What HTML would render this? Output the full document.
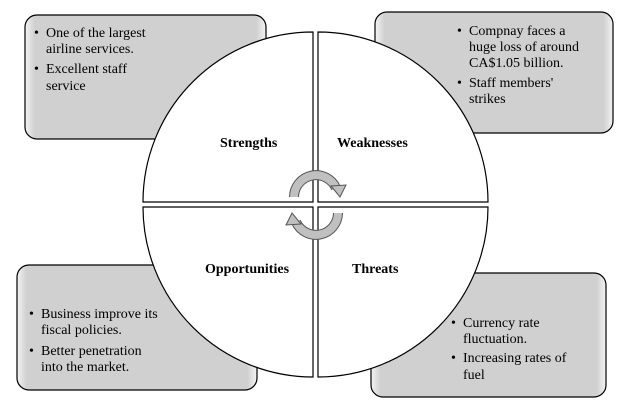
<!DOCTYPE html>
<html><head><style>
html,body{margin:0;padding:0;background:#fff;}
svg{display:block;}
text{font-family:"Liberation Serif",serif;font-size:14px;fill:#000;}
.b{font-weight:bold;}
</style></head><body>
<svg width="626" height="410" viewBox="0 0 626 410" xmlns="http://www.w3.org/2000/svg">
<defs>
<linearGradient id="g" x1="0" y1="0" x2="1" y2="0">
<stop offset="0" stop-color="#f4f4f4"/><stop offset="0.04" stop-color="#d0d0d0"/><stop offset="0.96" stop-color="#d0d0d0"/><stop offset="1" stop-color="#f4f4f4"/>
</linearGradient>
</defs>
<g stroke="#000" stroke-width="1.2" fill="url(#g)">
<rect x="25" y="15" width="241" height="124" rx="12"/>
<rect x="375" y="12" width="238" height="121" rx="12"/>
<rect x="17" y="265" width="240" height="125" rx="12"/>
<rect x="371" y="273" width="235" height="124" rx="12"/>
</g>
<g stroke="#000" stroke-width="1.2" fill="#fff">
<path d="M313,202 L143,202 A170,170 0 0 1 313,32 Z"/>
<path d="M318,202 L318,32 A170,170 0 0 1 488,202 Z"/>
<path d="M313,207 L313,377 A170,170 0 0 1 143,207 Z"/>
<path d="M318,207 L488,207 A170,170 0 0 1 318,377 Z"/>
</g>
<g fill="none" stroke-linecap="butt">
<path d="M294,197 A22,22 0 0 1 336,188" stroke="#555" stroke-width="10"/>
<path d="M294,197 A22,22 0 0 1 336,188" stroke="#c0c0c0" stroke-width="8"/>
<path d="M338,213 A22,22 0 0 1 296,222" stroke="#555" stroke-width="10"/>
<path d="M338,213 A22,22 0 0 1 296,222" stroke="#c0c0c0" stroke-width="8"/>
</g>
<polygon points="331,186 346,185 340,197" fill="#c0c0c0" stroke="#555" stroke-width="1"/>
<polygon points="301,224 286,225 292,213" fill="#c0c0c0" stroke="#555" stroke-width="1"/>
<text class="b" x="220" y="147">Strengths</text>
<text class="b" x="337" y="147">Weaknesses</text>
<text class="b" x="205" y="273">Opportunities</text>
<text class="b" x="352" y="273">Threats</text>
<text x="34" y="37">•</text><text x="46" y="37">One of the largest</text>
<text x="46" y="53">airline services.</text>
<text x="34" y="73">•</text><text x="46" y="73">Excellent staff</text>
<text x="46" y="90">service</text>
<text x="457" y="35">•</text><text x="469" y="35">Compnay faces a</text>
<text x="469" y="51">huge loss of around</text>
<text x="469" y="67">CA$1.05 billion.</text>
<text x="457" y="87">•</text><text x="469" y="87">Staff members'</text>
<text x="469" y="103">strikes</text>
<text x="29" y="318">•</text><text x="41" y="318">Business improve its</text>
<text x="41" y="334">fiscal policies.</text>
<text x="29" y="355">•</text><text x="41" y="355">Better penetration</text>
<text x="41" y="371">into the market.</text>
<text x="451" y="327">•</text><text x="463" y="327">Currency rate</text>
<text x="463" y="343">fluctuation.</text>
<text x="451" y="362">•</text><text x="463" y="362">Increasing rates of</text>
<text x="463" y="379">fuel</text>
</svg>
</body></html>
